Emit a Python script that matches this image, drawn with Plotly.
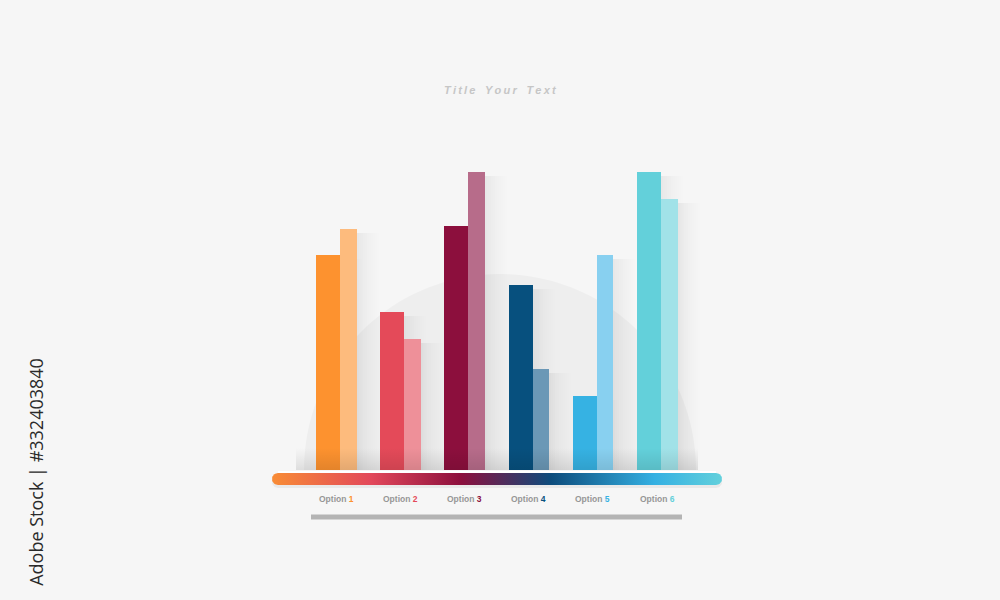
import numpy as np
import plotly.graph_objects as go

# ---------------- data ----------------
categories = ["Option 1", "Option 2", "Option 3", "Option 4", "Option 5", "Option 6"]
series_a = [72, 53, 82, 62, 25, 100]     # front (darker) bars
series_b = [81, 44, 100, 34, 72, 91]     # back (lighter) bars
colors_a = ["#fd922f", "#e44a59", "#8c0f3d", "#07507e", "#36b2e3", "#63d0da"]
colors_b = ["#fdbb7d", "#ee9099", "#b76c8a", "#6b98b6", "#88d0f0", "#a1e2e8"]
title_text = "Title Your Text"
side_text = "Adobe Stock | #332403840"

# ---------------- geometry helpers (layout only) ----------------
PX_X = 64.2          # pixels per x unit
PX_Y = 2.98          # pixels per y unit
x_pos = np.arange(len(categories))
n = len(x_pos)

def dx(px):
    return px / PX_X

def dy(px):
    return px / PX_Y

fig = go.Figure()

# soft shadows to the right of the bars (stack of fading slices)
shadow_b = [v - dy(4) for v in series_b]
shadow_a = [v - dy(4) for v in series_a]
slices = 12
for k in range(slices):
    alpha = 0.055 * (1 - k / slices) ** 1.5
    fig.add_trace(go.Bar(
        x=x_pos, y=shadow_a, width=[dx(2)] * n, offset=[dx(4 + 2 * k)] * n,
        marker=dict(color=f"rgba(0,0,0,{alpha:.4f})", line=dict(width=0)),
        hoverinfo="skip", showlegend=False))
    fig.add_trace(go.Bar(
        x=x_pos, y=shadow_b, width=[dx(2)] * n, offset=[dx(20.5 + 2 * k)] * n,
        marker=dict(color=f"rgba(0,0,0,{alpha:.4f})", line=dict(width=0)),
        hoverinfo="skip", showlegend=False))

# back (lighter) bars
fig.add_trace(go.Bar(
    x=x_pos, y=series_b, name="B",
    width=[dx(16.5)] * n, offset=[dx(4)] * n,
    marker=dict(color=colors_b, line=dict(width=0)), showlegend=False))
# front (darker) bars
fig.add_trace(go.Bar(
    x=x_pos, y=series_a, name="A",
    width=[dx(24)] * n, offset=[dx(-20)] * n,
    marker=dict(color=colors_a, line=dict(width=0)), showlegend=False))

# gradient base bar with rounded ends
gx0, gx1 = dx(-64), dx(386)
gy0, gy1 = dy(-15), dy(-3)
r_px = 6
rx, ry = dx(r_px), dy(r_px)
cy = (gy0 + gy1) / 2

# darkening band just above the base bar
fig.add_trace(go.Scatter(
    x=[dx(-40), dx(362), dx(362), dx(-40), dx(-40)],
    y=[0, 0, dy(22), dy(22), 0], fill="toself", mode="lines", line=dict(width=0),
    fillgradient=dict(type="vertical", colorscale=[
        [0.0, "rgba(0,0,0,0.10)"], [1.0, "rgba(0,0,0,0)"]]),
    hoverinfo="skip", showlegend=False))

a1 = np.linspace(np.pi / 2, 3 * np.pi / 2, 20)
a2 = np.linspace(-np.pi / 2, np.pi / 2, 20)
px = np.concatenate([gx0 + rx + rx * np.cos(a1), gx1 - rx + rx * np.cos(a2)])
py = np.concatenate([cy + ry * np.sin(a1), cy + ry * np.sin(a2)])
px = np.append(px, px[0])
py = np.append(py, py[0])
# shadow under the base bar
fig.add_trace(go.Scatter(
    x=px, y=py - dy(3), fill="toself", fillcolor="rgba(0,0,0,0.05)",
    mode="lines", line=dict(width=0), hoverinfo="skip", showlegend=False))
fig.add_trace(go.Scatter(
    x=px, y=py, fill="toself", mode="lines", line=dict(width=0),
    fillgradient=dict(type="horizontal", colorscale=[
        [0.0, "#f88c36"], [0.22, "#e2485a"], [0.42, "#8c0f3d"],
        [0.62, "#0d4c7c"], [0.85, "#34b0e2"], [1.0, "#62d0dc"]]),
    hoverinfo="skip", showlegend=False))

# background semicircle behind everything (layout shape, below traces)
cx = dx(164)
R = 196
t = np.linspace(0, np.pi, 90)
sx = cx + dx(R) * np.cos(t)
sy = dy(R) * np.sin(t)
semi_path = "M " + " L ".join(f"{a:.4f},{b:.4f}" for a, b in zip(sx, sy)) + " Z"

shapes = [
    dict(type="path", xref="x", yref="y", path=semi_path, layer="below",
         fillcolor="rgba(0,0,0,0.03)", line=dict(width=0)),
    # white highlight line on top of base bar
    dict(type="line", xref="x", yref="y", x0=gx0 + rx, x1=gx1 - rx,
         y0=dy(-2), y1=dy(-2), line=dict(color="#ffffff", width=2)),
    # gray line under labels
    dict(type="line", xref="x", yref="y", x0=dx(-25), x1=dx(346),
         y0=dy(-47), y1=dy(-47), line=dict(color="#b4b4b4", width=5)),
]

annotations = []
for i, cat in enumerate(categories):
    word, num = cat.split(" ")
    annotations.append(dict(
        x=x_pos[i], y=dy(-29), xref="x", yref="y", showarrow=False,
        text=f"<b>{word} <span style='color:{colors_a[i]}'>{num}</span></b>",
        font=dict(family="Liberation Sans, Arial", size=8.5, color="#969696")))

spaced_title = "\u2009".join(title_text).replace("\u2009 \u2009", "\u2009\u2009 \u2009")
annotations.append(dict(
    x=dx(164), y=dy(380), xref="x", yref="y", showarrow=False,
    text=f"<b><i>{spaced_title}</i></b>",
    font=dict(family="Liberation Sans, Arial", size=11, color="#c6c6c6")))
annotations.append(dict(
    x=-0.556, y=(540 - 472) / 480, xref="paper", yref="paper", yanchor="middle",
    showarrow=False, textangle=-90, text=side_text,
    font=dict(family="Open Sans, Noto Sans", size=18, color="#2a2a2a")))

fig.update_layout(
    width=1000, height=600,
    margin=dict(l=272, r=278, t=60, b=60),
    paper_bgcolor="#f6f6f6", plot_bgcolor="rgba(0,0,0,0)",
    barmode="overlay", bargap=0,
    xaxis=dict(range=[dx(-64), dx(386)], visible=False, fixedrange=True),
    yaxis=dict(range=[dy(-70), dy(410)], visible=False, fixedrange=True),
    shapes=shapes, annotations=annotations,
)

fig.write_html("out.html", config={"displayModeBar": False},
               post_script="document.body.style.margin='0';")
